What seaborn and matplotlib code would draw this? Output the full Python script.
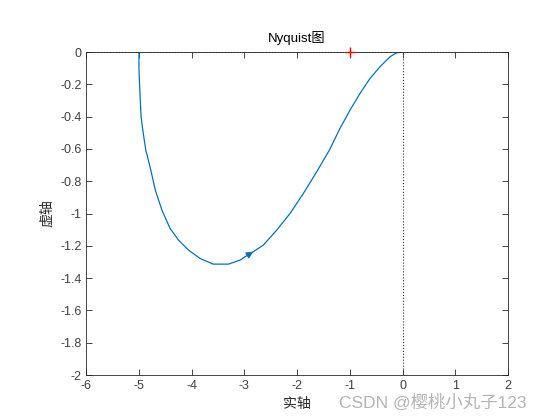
import numpy as np
import pandas as pd
import matplotlib
matplotlib.use('Agg')
import matplotlib.pyplot as plt
import seaborn as sns

re_part = [-5.00, -5.00, -4.99, -4.96, -4.92, -4.87, -4.79, -4.69, -4.565, -4.41,
           -4.25, -4.06, -3.84, -3.59, -3.30, -3.08, -2.99, -2.83, -2.64, -2.385,
           -2.133, -1.88, -1.627, -1.387, -1.185, -0.995, -0.806, -0.616, -0.427, -0.237,
           -0.11, 0.00]
im_part = [0.00, -0.10, -0.19, -0.40, -0.50, -0.607, -0.71, -0.854, -0.978, -1.092,
           -1.164, -1.226, -1.278, -1.313, -1.313, -1.288, -1.268, -1.236, -1.195, -1.102,
           -0.999, -0.875, -0.741, -0.607, -0.472, -0.359, -0.256, -0.163, -0.091, -0.029,
           -0.004, 0.00]
critical_point = (-1, 0)
arrow_idx = 17

x_ticks = list(range(-6, 3))
y_ticks = [0, -0.2, -0.4, -0.6, -0.8, -1, -1.2, -1.4, -1.6, -1.8, -2]

df = pd.DataFrame({'re': re_part, 'im': im_part})

sns.set_theme(style='white')
plt.rcParams['font.family'] = ['Liberation Sans', 'Noto Sans CJK SC', 'DejaVu Sans']
plt.rcParams['axes.unicode_minus'] = False

fig = plt.figure(figsize=(5.6, 4.2), dpi=100)
ax = fig.add_axes([0.154, 0.107, 0.753, 0.769])

line_color = '#0072BD'
sns.lineplot(data=df, x='re', y='im', sort=False, estimator=None,
             color=line_color, lw=0.9, ax=ax)

# direction arrow on the curve
x0, y0 = re_part[arrow_idx - 1], im_part[arrow_idx - 1]
x1, y1 = re_part[arrow_idx], im_part[arrow_idx]
ax.annotate('', xy=(x1, y1), xytext=(x0 + 0.5 * (x1 - x0), y0 + 0.5 * (y1 - y0)),
            arrowprops=dict(arrowstyle='-|>,head_length=0.35,head_width=0.17',
                            color=line_color, lw=0.8))

# critical point and zero lines
ax.axhline(0, color='#555555', ls=':', lw=0.8)
ax.axvline(0, color='#333333', ls=':', lw=0.8)
ax.plot(*critical_point, marker='+', color='red', ms=7, mew=1,
        clip_on=False, zorder=5)

ax.set_xlim(-6, 2)
ax.set_ylim(-2, 0)
ax.set_xticks(x_ticks)
ax.set_xticklabels([str(t) for t in x_ticks])
ax.set_yticks(y_ticks)
ax.set_yticklabels([('%g' % t) for t in y_ticks])

ax.tick_params(direction='in', length=4, width=0.6, colors='#262626',
               labelcolor='#404040', labelsize=9, top=True, right=True,
               bottom=True, left=True, labeltop=False, labelright=False)
for s in ax.spines.values():
    s.set_color('#262626')
    s.set_linewidth(0.6)

ax.set_title('Nyquist图', fontsize=9.5, color='#000000', pad=7)
ax.set_xlabel('实轴', fontsize=10, color='#262626', labelpad=4)
ax.set_ylabel('虚轴', fontsize=10, color='#262626', labelpad=4)

fig.text(0.94, 0.043, 'CSDN @樱桃小丸子123', ha='right', va='center',
         fontsize=12.5, color='#b4b4b4')

fig.savefig('out.png', dpi=100)
